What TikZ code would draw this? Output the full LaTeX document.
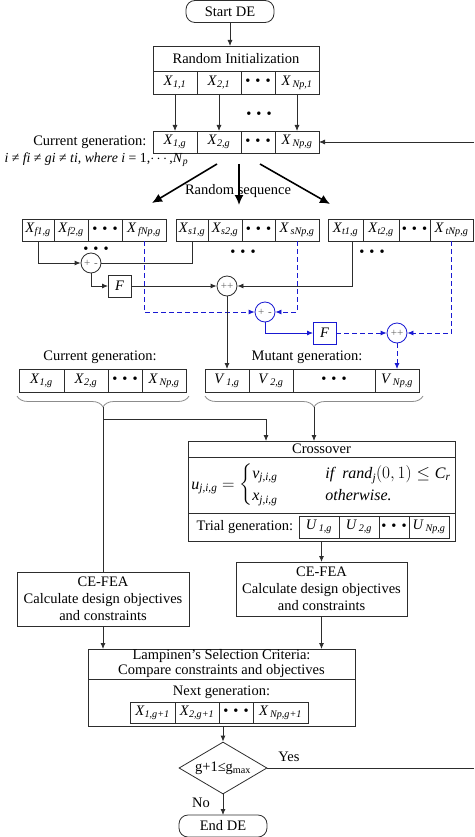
\documentclass[tikz,border=0pt]{standalone}
\usepackage{fontspec}
\setmainfont{Liberation Serif}
\usepackage{amsmath}
\usetikzlibrary{arrows.meta,shapes.geometric,decorations.pathreplacing}
\definecolor{myblue}{RGB}{25,25,210}
\definecolor{lc}{RGB}{45,45,45}
\newcommand\Xs[2]{\textit{#1}\textsubscript{\textit{#2}}}
\newcommand\bdots{\textbullet\hspace{5pt}\textbullet\hspace{5pt}\textbullet}
\newcommand\cellbox[7][]{\node[cell,#1,minimum width={(#4)-(#3)},minimum height={(#6)-(#5)}] (#2) at ({((#3)+(#4))/2},{((#5)+(#6))/2}) {#7};}
\begin{document}
\begin{tikzpicture}[x=1pt,y=-1pt,
  every node/.style={font=\fontsize{14.5}{16}\selectfont, text=black},
  box/.style={draw=lc, line width=0.8pt, inner sep=0pt, outer sep=0pt},
  cell/.style={box},
  arr/.style={draw=lc, line width=0.8pt, -{Latex[length=6pt,width=5pt]}},
  ln/.style={draw=lc, line width=0.8pt},
  barr/.style={draw=myblue, line width=0.8pt, -{Latex[length=6pt,width=5pt]}},
  bdash/.style={barr, dash pattern=on 5pt off 3pt},
  bigarr/.style={draw=black, line width=1.6pt, -{Latex[length=10pt,width=9pt]}},
  sumc/.style={circle, draw=lc, line width=0.8pt, minimum size=20pt, inner sep=0pt, font=\fontsize{11}{11}\selectfont, text=black!60},
  term/.style={box, rounded corners=9pt, minimum width=88pt, minimum height=22pt},
  brc/.style={draw=black!45, line width=0.8pt, decorate, decoration={brace, mirror, amplitude=11pt}},
]
\useasboundingbox (0,0) rectangle (474,837);

% start
\node[term] (start) at (230,11.5) {Start DE};

% random initialization
\cellbox{ah}{153}{319}{46}{71}{Random Initialization}
\cellbox{a1}{153}{197}{71}{94}{\Xs{X}{1,1}}
\cellbox{a2}{197}{241}{71}{94}{\Xs{X}{2,1}}
\cellbox{a3}{241}{275}{71}{94}{\bdots}
\cellbox{a4}{275}{319}{71}{94}{\Xs{X}{\,Np,1}}
\draw[arr] (start.south) -- (start.south |- ah.north);

% current generation
\cellbox{c1}{153}{197}{131}{153}{\Xs{X}{1,g}}
\cellbox{c2}{197}{241}{131}{153}{\Xs{X}{2,g}}
\cellbox{c3}{241}{275}{131}{153}{\bdots}
\cellbox{c4}{275}{319}{131}{153}{\Xs{X}{\,Np,g}}
\node[anchor=east] (cglab) at (150,142) {Current generation:};
\node (d0) at (259,115) {\bdots};
\draw[arr] (a1.south) -- (c1.north);
\draw[arr] (a2.south) -- (c2.north);
\draw[arr] (a4.south) -- (c4.north);
\coordinate (fbR) at (474,142);
\draw[arr] (fbR) -- (c4.east);

\node[anchor=west, font=\fontsize{13.8}{15}\selectfont] (cond) at (1,160) {\textit{i} ≠ \textit{fi} ≠ \textit{gi} ≠ \textit{ti, where i} = 1,$\cdots$,\textit{N}\textsubscript{\textit{p}}};

% random sequence arrows
\coordinate (s1) at (217,164); \coordinate (e1) at (152,203);
\coordinate (s2) at (239,164); \coordinate (e2) at (239,205);
\coordinate (s3) at (260,164); \coordinate (e3) at (330,204);
\draw[bigarr] (s1) -- (e1);
\draw[bigarr] (s2) -- (e2);
\draw[bigarr] (s3) -- (e3);
\node (rs) at (238,191) {Random sequence};

% three rows
\cellbox{l1}{22}{54}{219}{241}{\Xs{X}{f1,g}}
\cellbox{l2}{54}{88}{219}{241}{\Xs{X}{f2,g}}
\cellbox{l3}{88}{122}{219}{241}{\bdots}
\cellbox{l4}{122}{166}{219}{241}{\Xs{X}{\,fNp,g}}
\cellbox{m1}{176}{208}{219}{241}{\Xs{X}{s1,g}}
\cellbox{m2}{208}{242}{219}{241}{\Xs{X}{s2,g}}
\cellbox{m3}{242}{275}{219}{241}{\bdots}
\cellbox{m4}{275}{319}{219}{241}{\Xs{X}{\,sNp,g}}
\cellbox{r1}{328}{363}{219}{241}{\Xs{X}{t1,g}}
\cellbox{r2}{363}{399}{219}{241}{\Xs{X}{t2,g}}
\cellbox{r3}{399}{430}{219}{241}{\bdots}
\cellbox{r4}{430}{473}{219}{241}{\Xs{X}{\,tNp,g}}
\node (d1) at (96,250) {\bdots};
\node (d2) at (243,253) {\bdots};
\node (d3) at (372,253) {\bdots};

% mutation operators
\node[sumc] (pm1) at (91,263) {+\,\,-};
\node[sumc] (pp1) at (227,286) {++};
\node[sumc, draw=myblue] (pm2) at (265,312) {+\,\,-};
\node[sumc, draw=myblue] (pp2) at (397,333) {++};
\node[box, minimum width=23pt, minimum height=22pt] (F1) at (119.5,286) {\textit{F}};
\node[box, draw=myblue, minimum width=23pt, minimum height=22pt] (F2) at (324.5,333) {\textit{F}};

\draw[arr] (l1.south) |- (pm1.west);
\draw[ln] (m1.south) |- (pm1.east);
\draw[arr] (pm1.south) |- (F1.west);
\draw[arr] (F1.east) -- (pp1.west);
\draw[arr] ([xshift=6.5pt]r1.south) |- (pp1.east);
\draw[bdash] (l4.south) |- (pm2.west);
\draw[bdash] (m4.south) |- (pm2.east);
\draw[barr] (pm2.south) |- (F2.west);
\draw[bdash] (F2.east) -- (pp2.west);
\draw[bdash] (r4.south) |- (pp2.east);

% current and mutant generation
\node (cglab2) at (100,357) {Current generation:};
\node (mglab) at (307,357) {Mutant generation:};
\cellbox{g1}{19}{64}{369}{392}{\Xs{X}{1,g}}
\cellbox{g2}{64}{108}{369}{392}{\Xs{X}{2,g}}
\cellbox{g3}{108}{142}{369}{392}{\bdots}
\cellbox{g4}{142}{186}{369}{392}{\Xs{X}{\,Np,g}}
\cellbox{v1}{205}{249}{369}{392}{\Xs{V}{\,1,g}}
\cellbox{v2}{249}{293}{369}{392}{\Xs{V}{\,2,g}}
\cellbox{v3}{293}{375}{369}{392}{\bdots}
\cellbox{v4}{375}{419}{369}{392}{\Xs{V}{\,Np,g}}
\draw[arr] (pp1.south) -- (v1.north);
\draw[bdash] (pp2.south) -- (v4.north);

\draw[brc] (17,396) -- (189,396);
\draw[brc] (205,396) -- (423,396);
\coordinate (lb) at (103,407);
\coordinate (rb) at (314,407);
\coordinate (br) at (103,419);

% crossover
\node[box, minimum width=267pt, minimum height=100pt] (cross) at (321.5,491) {};
\draw[ln] (188,457) -- (455,457);
\draw[ln] (188,513) -- (455,513);
\node (crosst) at (321.5,449) {Crossover};
\node[font=\fontsize{16}{18}\selectfont] (eq) at (321.5,485) {$\textit{u}_{\textit{j,i,g}} = \begin{cases}\textit{v}_{\textit{j,i,g}} & \qquad\textit{if\ \ rand}_{\textit{j}}(0,1) \le \textit{C}_{\textit{r}}\\[1pt] \textit{x}_{\textit{j,i,g}} & \qquad\textit{otherwise.}\end{cases}$};
\node (triallab) at (245,527) {Trial generation:};
\cellbox{u1}{299}{339}{516}{538}{\Xs{U}{\,1,g}}
\cellbox{u2}{339}{379}{516}{538}{\Xs{U}{\,2,g}}
\cellbox{u3}{379}{409}{516}{538}{\bdots}
\cellbox{u4}{409}{449}{516}{538}{\Xs{U}{\,Np,g}}

% CE-FEA
\node[box, minimum width=172pt, minimum height=54pt, align=center, font=\fontsize{14.5}{17}\selectfont] (cef1) at (103,599) {CE-FEA\\Calculate design objectives\\and constraints};
\node[box, minimum width=171pt, minimum height=54pt, align=center, font=\fontsize{14.5}{17}\selectfont] (cef2) at (321.5,589) {CE-FEA\\Calculate design objectives\\and constraints};

\draw[ln] (lb) -- (cef1.north);
\draw[arr] (br) -| ([xshift=-55.5pt]cross.north);
\draw[arr] (rb) -- (rb |- cross.north);
\draw[arr] (cross.south) -- (cef2.north);

% Lampinen
\node[box, minimum width=267pt, minimum height=77pt] (lamp) at (221.5,687.5) {};
\draw[ln] (88,679) -- (355,679);
\node[align=center, font=\fontsize{14.5}{15}\selectfont] (lampt) at (221.5,664) {Lampinen’s Selection Criteria:\\Compare constraints and objectives};
\node (nextlab) at (221.5,692) {Next generation:};
\cellbox{n1}{130}{175}{702}{723}{\Xs{X}{1,g+1}}
\cellbox{n2}{175}{219}{702}{723}{\Xs{X}{2,g+1}}
\cellbox{n3}{219}{253}{702}{723}{\bdots}
\cellbox{n4}{253}{308}{702}{723}{\Xs{X}{\,Np,g+1}}
\draw[arr] (cef1.south) -- (cef1.south |- lamp.north);
\draw[arr] (cef2.south) -- (cef2.south |- lamp.north);

% decision
\node[diamond, draw=lc, line width=0.8pt, minimum width=88pt, minimum height=52pt, inner sep=0pt, aspect=1.7] (dec) at (223,768) {g+1≤g\textsubscript{max}};
\draw[arr] (dec.north |- lamp.south) -- (dec.north);
\coordinate (yesR) at (474,768);
\draw[ln] (dec.east) -- (yesR);
\node (yes) at (289,757) {Yes};
\node (no) at (201,803) {No};
\node[term] (end) at (223,826) {End DE};
\draw[arr] (dec.south) -- (end.north);
\end{tikzpicture}
\end{document}
